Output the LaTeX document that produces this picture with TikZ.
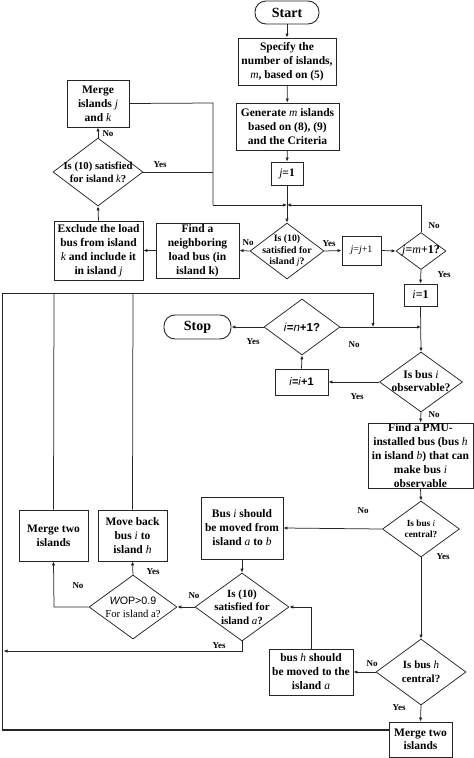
\documentclass[tikz,border=0pt]{standalone}
\usepackage{fontspec}
\setmainfont{Liberation Serif}
\newfontfamily\sansf{Liberation Sans}
\usetikzlibrary{shapes.geometric,arrows.meta}
\newcommand{\vi}[1]{{\mdseries\itshape #1}}
\tikzset{
 ln/.style={line width=0.75pt, draw=black!85},
 arr/.style={ln, -{Latex[length=4pt,width=3.4pt]}},
 sz/.style 2 args={minimum width=#1pt, minimum height=#2pt},
 box/.style={draw=black!85, line width=0.9pt, font=\fontsize{11.5}{14}\selectfont\bfseries, align=center, inner sep=0pt},
 term/.style={box, rounded corners=11pt, font=\fontsize{14}{16}\selectfont\bfseries},
 dia/.style 2 args={draw=black!85, line width=0.75pt, shape=diamond, inner sep=0pt, minimum width=#1pt, minimum height=#2pt},
 dtxt/.style={font=\fontsize{11}{13}\selectfont\bfseries, align=center, inner sep=0pt},
 lbl/.style={font=\fontsize{9}{10}\selectfont\bfseries, inner sep=0pt},
}
\begin{document}
\begin{tikzpicture}[x=1pt,y=-1pt]
\useasboundingbox (0,0) rectangle (474,758);
% ---------- nodes ----------
\node[term, sz={64}{23}] (start) at (287,12.5) {Start};
\node[box, sz={98}{47}] (b1) at (287,61.5) {Specify the\\number of islands,\\\vi{m}, based on (5)};
\node[box, sz={103}{47}] (b2) at (287.5,126.5) {Generate \vi{m} islands\\based on (8), (9)\\and the Criteria};
\node[box, sz={32}{23}] (j1) at (287,173.5) {\vi{j}=1};
\node[box, sz={62}{47}] (mjk) at (98,103.5) {Merge\\islands \vi{j}\\and \vi{k}};
\node[dia={90}{68}] (dk) at (98,172) {};
\node[dtxt, font=\fontsize{10.7}{13}\selectfont\bfseries] (dkt) at (dk) {Is (10) satisfied\\for island \vi{k}?};
\node[dia={74}{56}] (dj) at (287,251) {};
\node[dtxt, font=\fontsize{9.8}{11.5}\selectfont\bfseries] (djt) at (dj) {Is (10)\\satisfied for\\island \vi{j}?};
\node[box, sz={83}{55}] (find) at (197.5,250.5) {Find a\\neighboring\\load bus (in\\island k)};
\node[box, sz={89}{59}] (excl) at (98.5,250.5) {Exclude the load\\bus from island\\\vi{k} and include it\\in island \vi{j}};
\node[box, sz={39}{29}, font=\fontsize{10}{12}\selectfont] (jj1) at (361.5,250.5) {\vi{j}=\vi{j}+1};
\node[dia={50}{37}] (dm) at (421,251) {};
\node[dtxt, font=\fontsize{12}{14}\selectfont\bfseries] (dmt) at (dm) {\vi{j}=\vi{m}+1?};
\node[box, sz={33}{22}, font=\fontsize{12}{14}\selectfont\bfseries] (i1) at (420.5,295) {\vi{i}=1};
\node[dia={76}{56}] (dn) at (302,327) {};
\node[dtxt, font=\fontsize{11.5}{14}\sansf\bfseries] (dnt) at (dn) {\textit{\mdseries i}=\textit{\mdseries n}+1?};
\node[term, sz={67}{24}] (stop) at (197.5,327) {Stop};
\node[box, sz={53}{26}, font=\fontsize{11}{13}\sansf\bfseries] (ii1) at (301.5,382) {\textit{\mdseries i}=\textit{\mdseries i}+1};
\node[dia={83}{60}] (dobs) at (421,382) {};
\node[dtxt, font=\fontsize{11.5}{13}\selectfont\bfseries] (dobst) at (421,381) {Is bus \vi{i}\\observable?};
\node[box, sz={105}{65}] (pmu) at (420.5,455.5) {Find a PMU-\\installed bus (bus \vi{h}\\in island \vi{b}) that can\\make bus \vi{i}\\observable};
\node[dia={77}{56}] (dcen) at (421,529) {};
\node[dtxt, font=\fontsize{9.3}{11.5}\selectfont\bfseries] (dcent) at (dcen) {Is bus \vi{i}\\central?};
\node[box, sz={82}{62}] (busi) at (242,528) {Bus \vi{i} should\\be moved from\\island \vi{a} to \vi{b}};
\node[box, sz={69}{51}] (mergeL) at (53.5,535.5) {Merge two\\islands};
\node[box, sz={69}{51}] (moveb) at (132.5,535.5) {Move back\\bus \vi{i} to\\island \vi{h}};
\node[dia={88}{64}] (dwop) at (133,607) {};
\node[dtxt, font=\fontsize{10.7}{13}\selectfont] (dwopt) at (dwop) {{\sansf\itshape W}{\sansf OP>0.9}\\For island a?};
\node[dia={94}{68}] (da) at (242,607) {};
\node[dtxt, font=\fontsize{11}{13.5}\selectfont\bfseries] (dat) at (da) {Is (10)\\satisfied for\\island \vi{a}?};
\node[box, sz={84}{46}] (bush) at (311,672) {bus \vi{h} should\\be moved to the\\island \vi{a}};
\node[dia={90}{66}] (dh) at (421,672) {};
\node[dtxt, font=\fontsize{11}{14}\selectfont\bfseries] (dht) at (dh) {Is bus \vi{h}\\central?};
\node[box, sz={63}{35}, font=\fontsize{11.5}{13}\selectfont\bfseries] (mergeR) at (420.5,739.5) {Merge two\\islands};
% ---------- junction coordinates ----------
\coordinate (jA) at (287,205);
\coordinate (kX) at (213,103);
\coordinate (kY) at (213,205);
\coordinate (kM) at (213,172);
\coordinate (mTop) at (421,205);
\coordinate (jB) at (421,327);
\coordinate (lb) at (2.5,730);
\coordinate (lt) at (2.5,293);
\coordinate (tr) at (373,293);
\coordinate (tj) at (373,327);
\coordinate (xL) at (54,293);
\coordinate (xM) at (133,293);
\coordinate (wopL) at (54,607);
\coordinate (aB) at (242,651);
\coordinate (aL) at (3.5,651);
\coordinate (hT) at (311,607);
% ---------- connectors ----------
\draw[arr] (start) -- (b1);
\draw[arr] (b1) -- (b2);
\draw[arr] (b2) -- (j1);
\draw[arr] (j1) -- (dj.north);
\draw[arr] (dj.west) -- (find.east);
\draw[arr] (find.west) -- (excl.east);
\draw[arr] (excl.north) -- (dk.south);
\draw[arr] (dk.north) -- (mjk.south);
\draw[ln] (mjk.east) -- (kX) -- (kY);
\draw[arr] (kY) -- (jA);
\draw[ln] (dk.east) -- (kM);
\draw[arr] (dj.east) -- (jj1.west);
\draw[arr] (jj1.east) -- (dm.west);
\draw[arr] (dm.north) -- (mTop) -- (jA);
\draw[arr] (dm.south) -- (i1.north);
\draw[arr] (i1.south) -- (dobs.north);
\draw[arr] (dn.east) -- (jB);
\draw[ln, line width=1.1pt] ([yshift=9.5pt]mergeR.west) -- (lb) -- (lt);
\draw[arr] (lt) -- (tr) -- (tj);
\draw[ln] (mergeL.north) -- (xL);
\draw[ln] (moveb.north) -- (xM);
\draw[arr] (dobs.west) -- (ii1.east);
\draw[arr] (ii1.north) -- (dn.south);
\draw[arr] (dn.west) -- (stop.east);
\draw[arr] (dobs.south) -- (pmu.north);
\draw[arr] (pmu.south) -- (dcen.north);
\draw[arr] (dcen.west) -- (busi.east);
\draw[arr] (dcen.south) -- (dh.north);
\draw[arr] (busi.south) -- (da.north);
\draw[arr] (da.west) -- (dwop.east);
\draw[arr] (dwop.north) -- (moveb.south);
\draw[arr] (dwop.west) -- (wopL) -- (mergeL.south);
\draw[arr] (da.south) -- (aB) -- (aL);
\draw[arr] (bush.north) -- (hT) -- (da.east);
\draw[arr] (dh.west) -- (bush.east);
\draw[arr] (dh.south) -- (mergeR.north);
% ---------- labels ----------
\node[lbl] (l1) at (248,243) {No};
\node[lbl] (l2) at (329,244) {Yes};
\node[lbl] (l3) at (108,134) {No};
\node[lbl] (l4) at (160,165) {Yes};
\node[lbl] (l5) at (434,226) {No};
\node[lbl] (l6) at (444,275) {Yes};
\node[lbl] (l7) at (253,342) {Yes};
\node[lbl] (l8) at (354,345) {No};
\node[lbl] (l9) at (357,397) {Yes};
\node[lbl] (l10) at (434,415) {No};
\node[lbl] (l11) at (363,511) {No};
\node[lbl] (l12) at (443,557) {Yes};
\node[lbl] (l13) at (194,596) {No};
\node[lbl] (l14) at (219,646) {Yes};
\node[lbl] (l15) at (78,586) {No};
\node[lbl] (l16) at (153,572) {Yes};
\node[lbl] (l17) at (372,664) {No};
\node[lbl] (l18) at (399,708) {Yes};
\end{tikzpicture}
\end{document}
